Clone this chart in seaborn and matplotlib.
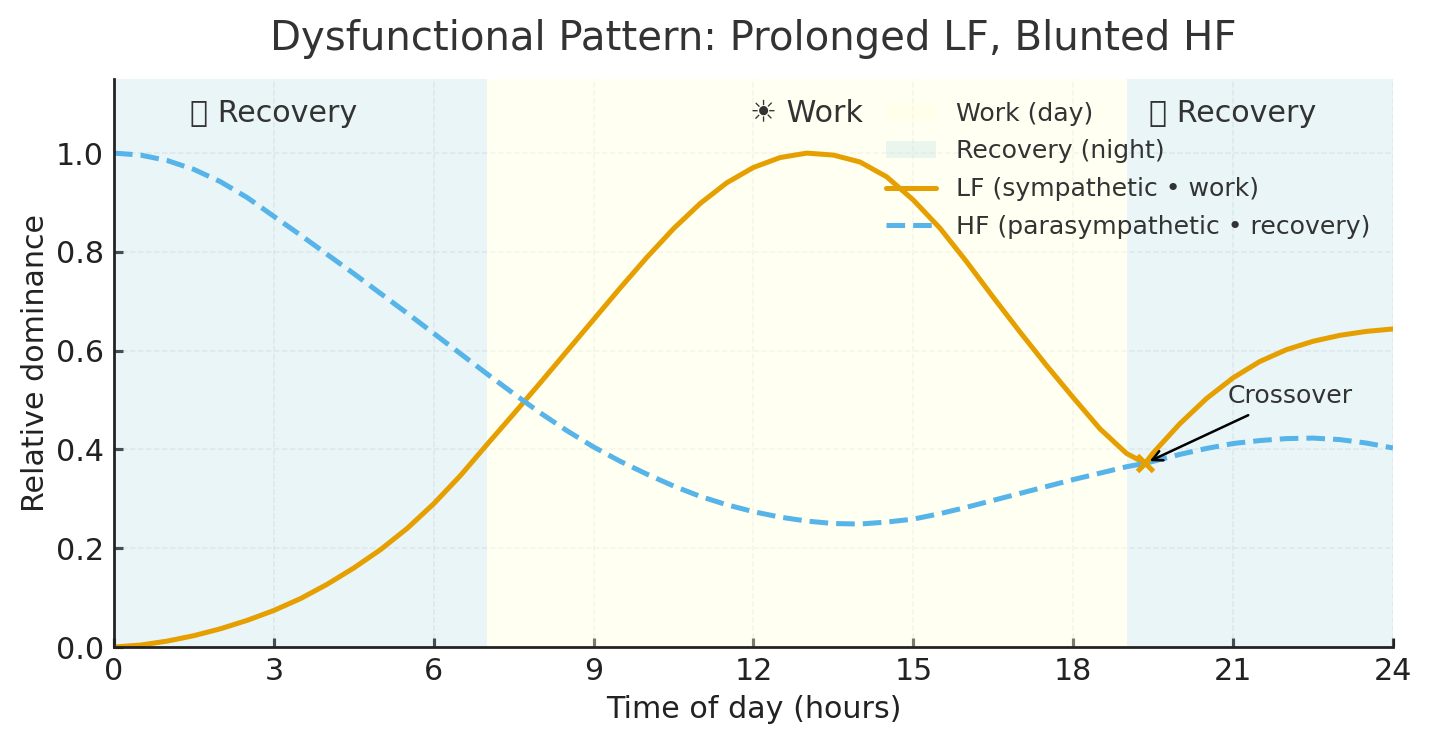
import numpy as np
import pandas as pd
import matplotlib.pyplot as plt
import seaborn as sns

# Hours of the day (half-hour steps, plus the crossover point)
hours = [0, 0.5, 1, 1.5, 2, 2.5, 3, 3.5, 4, 4.5, 5, 5.5, 6, 6.5, 7, 7.5, 8, 8.5, 9, 9.5,
         10, 10.5, 11, 11.5, 12, 12.5, 13, 13.5, 14, 14.5, 15, 15.5, 16, 16.5, 17, 17.5,
         18, 18.5, 19, 19.35, 19.5, 20, 20.5, 21, 21.5, 22, 22.5, 23, 23.5, 24]

# LF (sympathetic)
lf = [0.0, 0.004, 0.012, 0.023, 0.037, 0.054, 0.074, 0.098, 0.127, 0.160, 0.197, 0.240,
      0.290, 0.347, 0.410, 0.472, 0.535, 0.599, 0.663, 0.727, 0.789, 0.847, 0.898, 0.940,
      0.971, 0.991, 1.0, 0.996, 0.982, 0.952, 0.905, 0.848, 0.780, 0.708, 0.638, 0.570,
      0.505, 0.442, 0.392, 0.372, 0.393, 0.452, 0.503, 0.545, 0.578, 0.602, 0.619, 0.631,
      0.639, 0.644]

# HF (parasympathetic)
hf = [1.0, 0.996, 0.985, 0.967, 0.942, 0.910, 0.872, 0.834, 0.795, 0.756, 0.716, 0.676,
      0.635, 0.594, 0.553, 0.513, 0.474, 0.438, 0.405, 0.376, 0.350, 0.326, 0.305, 0.288,
      0.274, 0.263, 0.255, 0.250, 0.249, 0.253, 0.259, 0.270, 0.283, 0.297, 0.311, 0.325,
      0.339, 0.352, 0.365, 0.372, 0.376, 0.390, 0.402, 0.412, 0.418, 0.422, 0.423, 0.420,
      0.413, 0.403]

crossover_x = 19.35
crossover_y = 0.372

df = pd.DataFrame({"Hour": hours, "LF": lf, "HF": hf})

sns.set_theme(style="ticks")
plt.rcParams['font.family'] = ['DejaVu Sans']

DPI = 181
fig = plt.figure(figsize=(1430 / DPI, 742 / DPI), dpi=DPI)
ax = fig.add_axes([0.0797, 0.128, 0.8944, 0.7655])

# Background bands
ax.axvspan(7, 19, color='#FFFFE0', alpha=0.4, lw=0, label='Work (day)')
ax.axvspan(0, 7, color='#ADD8E6', alpha=0.25, lw=0, label='Recovery (night)')
ax.axvspan(19, 24, color='#ADD8E6', alpha=0.25, lw=0)

sns.lineplot(data=df, x="Hour", y="LF", ax=ax, color='#E69F00', lw=2.0,
             label='LF (sympathetic • work)')
sns.lineplot(data=df, x="Hour", y="HF", ax=ax, color='#56B4E9', lw=2.0, linestyle='--',
             label='HF (parasympathetic • recovery)')

ax.plot(crossover_x, crossover_y, marker='x', color='#E69F00', ms=6, mew=2)
ax.annotate('Crossover', xy=(crossover_x, crossover_y), xytext=(20.9, 0.495),
            fontsize=10, color='#333333',
            arrowprops=dict(arrowstyle='->', color='black', lw=1))

# Region labels
ax.text(3.0, 1.08, '🌙 Recovery', ha='center', va='center', fontsize=12, color='#333333')
ax.text(13, 1.08, '☀ Work', ha='center', va='center', fontsize=12, color='#333333')
ax.text(21.0, 1.08, '🌙 Recovery', ha='center', va='center', fontsize=12, color='#333333')

ax.set_xlim(0, 24)
ax.set_ylim(0, 1.15)
ax.set_xticks([0, 3, 6, 9, 12, 15, 18, 21, 24])
ax.set_yticks([0.0, 0.2, 0.4, 0.6, 0.8, 1.0])
ax.tick_params(labelsize=12, length=3.5, direction='in', pad=4, colors='#222222')
ax.grid(True, linestyle='--', linewidth=0.6, alpha=0.35)
sns.despine(ax=ax)
for s in ['left', 'bottom']:
    ax.spines[s].set_color('#222222')
    ax.spines[s].set_linewidth(1.1)

ax.set_xlabel('Time of day (hours)', fontsize=12, color='#222222', labelpad=3.5)
ax.set_ylabel('Relative dominance', fontsize=12, color='#222222', labelpad=2.5)
ax.set_title('Dysfunctional Pattern: Prolonged LF, Blunted HF', fontsize=16,
             color='#333333', pad=11.5)

ax.legend(loc='upper right', frameon=False, fontsize=10, labelcolor='#333333',
          labelspacing=0.55)

fig.savefig('out.png', dpi=DPI)
